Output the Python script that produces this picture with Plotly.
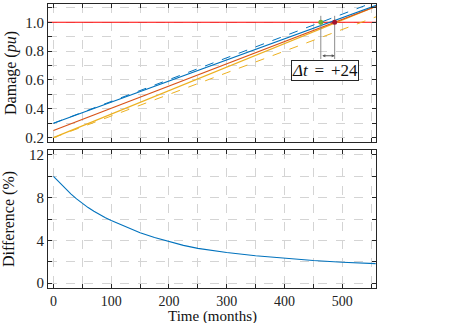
import plotly.graph_objects as go
from plotly.subplots import make_subplots

# ---- data ----
t_line = [0, 560]
blue_dashed = [0.30, 1.147]
blue_solid = [0.30, 1.120]
orange_solid = [0.25, 1.112]
yellow_solid = [0.20, 1.113]
yellow_dashed = [0.20, 1.040]
threshold = [1.0, 1.0]
t_threshold = [-10, 560]

t_cross = [463, 487]          # crossing times
delta_t_label = "+24"

months = [0, 10, 20, 30, 40, 50, 60, 70, 80, 90, 100, 125, 150, 175, 200, 225, 250,
          275, 300, 350, 400, 450, 500, 550, 558]
difference = [10.0, 9.42, 8.87, 8.36, 7.89, 7.45, 7.07, 6.72, 6.40, 6.11, 5.85, 5.25, 4.72,
              4.26, 3.86, 3.53, 3.25, 3.04, 2.87, 2.56, 2.31, 2.11, 1.95, 1.84, 1.82]

x_ticks = [0, 50, 100, 150, 200, 250, 300, 350, 400, 450, 500, 550]
x_labels = ["0", "", "100", "", "200", "", "300", "", "400", "", "500", ""]
y1_ticks = [0.2, 0.3, 0.4, 0.5, 0.6, 0.7, 0.8, 0.9, 1.0, 1.1]
y1_labels = ["0.2", "", "0.4", "", "0.6", "", "0.8", "", "1.0", ""]
y2_ticks = [0, 2, 4, 6, 8, 10, 12]
y2_labels = ["0", "", "4", "", "8", "", "12"]

BLUE = "#0072bd"
ORANGE = "#d95319"
YELLOW = "#edb120"
FONT = "Liberation Serif"
FRAME = "#262626"

fig = make_subplots(rows=2, cols=1, shared_xaxes=True)

fig.add_trace(go.Scatter(x=t_threshold, y=threshold, mode="lines",
                         line=dict(color="#ff0000", width=1.1)), row=1, col=1)
fig.add_trace(go.Scatter(x=t_line, y=yellow_dashed, mode="lines",
                         line=dict(color=YELLOW, width=1.0, dash="dash")), row=1, col=1)
fig.add_trace(go.Scatter(x=t_line, y=yellow_solid, mode="lines",
                         line=dict(color=YELLOW, width=1.2)), row=1, col=1)
fig.add_trace(go.Scatter(x=t_line, y=orange_solid, mode="lines",
                         line=dict(color=ORANGE, width=1.2)), row=1, col=1)
fig.add_trace(go.Scatter(x=t_line, y=blue_solid, mode="lines",
                         line=dict(color=BLUE, width=1.1)), row=1, col=1)
fig.add_trace(go.Scatter(x=t_line, y=blue_dashed, mode="lines",
                         line=dict(color=BLUE, width=1.0, dash="dash")), row=1, col=1)

# vertical guide lines
for tc in t_cross:
    fig.add_trace(go.Scatter(x=[tc, tc], y=[1.045, 0.745], mode="lines",
                             line=dict(color="#8c8c8c", width=1)), row=1, col=1)

fig.add_trace(go.Scatter(x=[t_cross[0]], y=[1.0], mode="markers",
                         marker=dict(color="#77ac30", size=5)), row=1, col=1)
fig.add_trace(go.Scatter(x=[t_cross[1]], y=[1.0], mode="markers",
                         marker=dict(color="#a2142f", size=5)), row=1, col=1)

fig.add_trace(go.Scatter(x=months, y=difference, mode="lines",
                         line=dict(color=BLUE, width=1.1)),
              row=2, col=1)

# double arrow between crossing times
fig.add_annotation(x=t_cross[1], y=0.768, ax=t_cross[0], ay=0.768,
                   xref="x", yref="y", axref="x", ayref="y",
                   showarrow=True, arrowside="end+start", arrowhead=2,
                   arrowsize=0.6, arrowwidth=1, arrowcolor="#555555", text="")
fig.add_annotation(x=470, y=0.667, xref="x", yref="y",
                   text="<i>Δt</i>\u2009\u2009=\u2009\u2009" + delta_t_label, showarrow=False,
                   font=dict(family=FONT, size=17, color="#111111"),
                   bgcolor="white", bordercolor=FRAME, borderwidth=1, borderpad=0)

# x-axis title placed as annotation (keeps it clear of tick labels)
fig.add_annotation(x=0.5, y=-0.0986, xref="paper", yref="paper",
                   text="Time (months)", showarrow=False,
                   xanchor="center", yanchor="middle",
                   font=dict(family=FONT, size=15, color="#111111"))

axis_common = dict(showline=True, linecolor=FRAME, linewidth=1.2, mirror="ticks",
                   ticks="inside", ticklen=4, tickcolor=FRAME, tickwidth=1,
                   showgrid=True, gridcolor="#d4d4d4", griddash="dash", gridwidth=1,
                   zeroline=False, tickfont=dict(family=FONT, size=15, color="#222222"))

fig.update_xaxes(**axis_common, range=[-9.5, 558.6], tickmode="array", tickvals=x_ticks)
fig.update_xaxes(ticktext=x_labels, row=2, col=1, tickfont=dict(family=FONT, size=14, color="#222222"))
fig.update_xaxes(showticklabels=False, row=1, col=1)

fig.update_yaxes(**axis_common)
fig.update_yaxes(range=[0.17, 1.127], tickmode="array", tickvals=y1_ticks,
                 ticktext=y1_labels, row=1, col=1,
                 title=dict(text="Damage (<i>pu</i>)", standoff=4,
                            font=dict(family=FONT, size=16, color="#111111")))
fig.update_yaxes(range=[-0.46, 12.46], tickmode="array", tickvals=y2_ticks,
                 ticktext=y2_labels, row=2, col=1,
                 title=dict(text="Difference (%)", standoff=12,
                            font=dict(family=FONT, size=16, color="#111111")))

fig.update_layout(
    width=474, height=323,
    margin=dict(l=48, r=98, t=4, b=35, autoexpand=False),
    showlegend=False,
    font=dict(family=FONT, size=15, color="#222222"),
    plot_bgcolor="white", paper_bgcolor="white",
    xaxis=dict(domain=[0, 1]),
    yaxis=dict(domain=[0.5141, 1.0]),
    yaxis2=dict(domain=[0.0, 0.4859]),
)

fig.write_html("out.html")
